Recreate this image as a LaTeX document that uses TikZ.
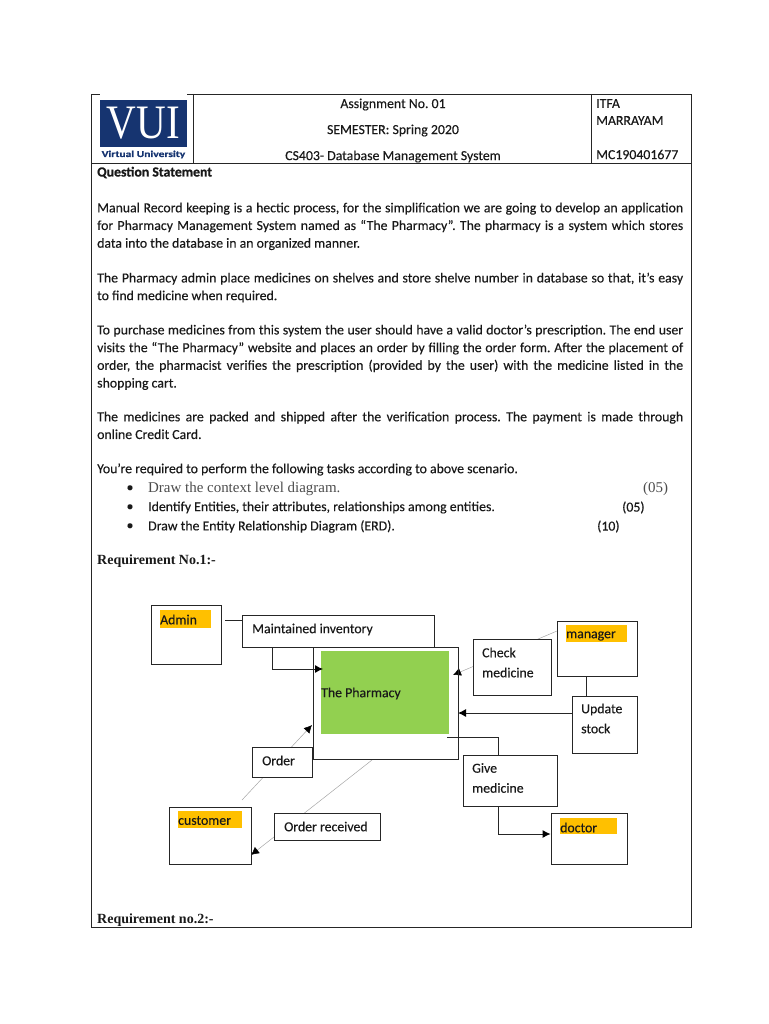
\documentclass[tikz,border=0pt]{standalone}
\usepackage{fontspec}
\setmainfont{Carlito}[FakeBold=0.25,BoldFeatures={FakeBold=0.9}]
\newfontfamily\timesfont{Liberation Serif}
\usetikzlibrary{arrows.meta,backgrounds}
\definecolor{vunavy}{RGB}{22,52,112}
\definecolor{hilite}{RGB}{255,192,0}
\definecolor{pharmgreen}{RGB}{146,208,80}
\frenchspacing
\tikzset{
  txt/.style={inner sep=0pt,anchor=west,yshift=-1.5pt,font=\fontsize{13.8}{18}\selectfont,text=black!90},
  para/.style={txt,anchor=north west,text width=586pt,align=justify,font=\fontsize{13.8}{17.7}\selectfont},
  rm/.style={txt,font=\timesfont\fontsize{14.95}{18}\selectfont,text=black!70},
  req/.style={txt,font=\timesfont\bfseries\fontsize{14}{18}\selectfont},
  box/.style={draw=black!85,line width=0.9pt,fill=white,inner sep=0pt},
  tag/.style={fill=hilite,inner sep=0pt},
  lnk/.style={draw=black!85,line width=0.9pt},
  thin lnk/.style={draw=black!35,line width=0.5pt},
  tip/.style={-{Latex[length=8pt,width=8pt,black]}}
}
\begin{document}
\begin{tikzpicture}[x=1pt,y=-1pt]
  \useasboundingbox (0,0) rectangle (768,1024);
  % page frame and header
  \node[draw=black!85,line width=0.9pt,minimum width=600pt,minimum height=833pt,inner sep=0pt] (frame) at (391,510.5) {};
  \draw[lnk] (91,163)--(691,163);
  \draw[lnk] (193,94)--(193,163);
  \draw[lnk] (591,94)--(591,163);
  \fill[white] (100,92) rectangle (187,100);
  \node[fill=vunavy,minimum width=87pt,minimum height=47pt,inner sep=0pt] (logo) at (143.5,123.5) {};
  \node[text=white,inner sep=0pt,anchor=base] (vui) at (143.5,139) {\timesfont\scalebox{1.37}[1.6]{\fontsize{30}{30}\selectfont VUI}};
  \node[inner sep=0pt,text=vunavy,anchor=base] (vuname) at (143.5,157) {\scalebox{1.28}[1]{\bfseries\fontsize{9}{10}\selectfont Virtual University}};
  \node[txt,anchor=center] (t1) at (393,103) {Assignment No. 01};
  \node[txt,anchor=center] (t2) at (393,129) {SEMESTER: Spring 2020};
  \node[txt,anchor=center] (t3) at (393,155) {CS403- Database Management System};
  \node[txt] (itfa) at (596,102) {ITFA};
  \node[txt] (marr) at (596,119) {MARRAYAM};
  \node[txt] (regno) at (596,153) {MC190401677};
  % statement
  \node[txt,font=\bfseries\fontsize{13.8}{18}\selectfont] (qs) at (97,171) {Question Statement};
  \node[para] (p1) at (97,201) {Manual Record keeping is a hectic process, for the simplification we are going to develop an application\linebreak
    for Pharmacy Management System named as “The Pharmacy”. The pharmacy is a system which stores\linebreak
    data into the database in an organized manner.};
  \node[para] (p2) at (97,271) {The Pharmacy admin place medicines on shelves and store shelve number in database so that, it’s easy\linebreak
    to find medicine when required.};
  \node[para] (p3) at (97,323) {To purchase medicines from this system the user should have a valid doctor’s prescription. The end user\linebreak
    visits the “The Pharmacy” website and places an order by filling the order form. After the placement of\linebreak
    order, the pharmacist verifies the prescription (provided by the user) with the medicine listed in the\linebreak
    shopping cart.};
  \node[para] (p4) at (97,410) {The medicines are packed and shipped after the verification process. The payment is made through\linebreak
    online Credit Card.};
  \node[txt] (p5) at (97,468) {You’re required to perform the following tasks according to above scenario.};
  \node[txt,anchor=center] (b1) at (130,487) {\textbullet};
  \node[txt,anchor=center] (b2) at (130,506) {\textbullet};
  \node[txt,anchor=center] (b3) at (130,525) {\textbullet};
  \node[rm] (i1) at (148,487) {Draw the context level diagram.};
  \node[txt] (i2) at (148,506) {Identify Entities, their attributes, relationships among entities.};
  \node[txt] (i3) at (148,525) {Draw the Entity Relationship Diagram (ERD).};
  \node[rm] (m1) at (643,487) {(05)};
  \node[txt] (m2) at (622,506) {(05)};
  \node[txt] (m3) at (597,525) {(10)};
  \node[req] (r1) at (97,560) {Requirement No.1:-};
  \node[req] (r2) at (97,919) {Requirement no.2:-};
  % diagram boxes
  \node[box,fill=none,minimum width=145pt,minimum height=112pt] (pharm) at (385.5,703) {};
  \node[fill=pharmgreen,minimum width=128pt,minimum height=83pt,inner sep=0pt] (core) at (385,692.5) {};
  \node[txt] (pharmtxt) at (321,692) {The Pharmacy};
  \node[box,minimum width=70pt,minimum height=59pt] (admin) at (186,634.5) {};
  \node[box,minimum width=192pt,minimum height=32pt] (inv) at (338,631) {};
  \node[box,minimum width=60pt,minimum height=30pt] (order) at (282,762) {};
  \node[box,minimum width=82pt,minimum height=57pt] (cust) at (210,835.5) {};
  \node[box,minimum width=106pt,minimum height=27pt] (recv) at (327,826.5) {};
  \node[box,minimum width=78pt,minimum height=56pt] (check) at (512,667) {};
  \node[box,minimum width=80pt,minimum height=55pt] (mgr) at (597,648.5) {};
  \node[box,minimum width=65pt,minimum height=57pt] (stock) at (604.5,724.5) {};
  \node[box,minimum width=94pt,minimum height=51pt] (give) at (510,780.5) {};
  \node[box,minimum width=76pt,minimum height=51pt] (doc) at (589,838.5) {};
  % highlighted names
  \node[tag,minimum width=51pt,minimum height=18pt] (admintag) at (185.5,619) {};
  \node[tag,minimum width=64pt,minimum height=17pt] (custtag) at (210,819.5) {};
  \node[tag,minimum width=61pt,minimum height=17pt] (mgrtag) at (596.5,633.5) {};
  \node[tag,minimum width=57pt,minimum height=16pt] (doctag) at (588.5,826) {};
  \node[txt] at (160,618) {Admin};
  \node[txt] at (178,819) {customer};
  \node[txt] at (566,634.5) {manager};
  \node[txt] at (560,826) {doctor};
  \node[txt] at (252,628) {Maintained inventory};
  \node[txt] at (262,759) {Order};
  \node[txt] at (284,825) {Order received};
  \node[txt,align=left,font=\fontsize{13.8}{20}\selectfont] at (482,661) {Check\\medicine};
  \node[txt,align=left,font=\fontsize{13.8}{20}\selectfont] at (581,717) {Update\\stock};
  \node[txt,align=left,font=\fontsize{13.8}{20}\selectfont] at (472,776.5) {Give\\medicine};
  % connector ends
  \coordinate (a1) at (225,620);
  \coordinate (a2) at (242,620);
  \coordinate (c1) at (242,800);
  \coordinate (c2) at (312,725);
  \coordinate (c3) at (372,760);
  \coordinate (c4) at (251,855);
  \coordinate (m3a) at (557,631);
  \coordinate (m3b) at (453,675);
  \coordinate (s1) at (458,713);
  \coordinate (g1) at (447,737);
  \draw[lnk,tip] (272,647)--(272,669)--(323,669);
  \begin{scope}[on background layer]
    \draw[lnk] (a1)--(a2);
    \draw[thin lnk,tip] (c1)--(c2);
    \draw[thin lnk,tip] (c3)--(c4);
    \draw[thin lnk,tip] (m3a)--(m3b);
    \draw[lnk] (586,676)--(586,696);
    \draw[lnk,tip] (stock.west|-s1)--(s1);
    \draw[lnk] (g1)-|(498,755);
    \draw[lnk,tip] (498,806)|-(doc.west|-498,834);
  \end{scope}
\end{tikzpicture}
\end{document}
